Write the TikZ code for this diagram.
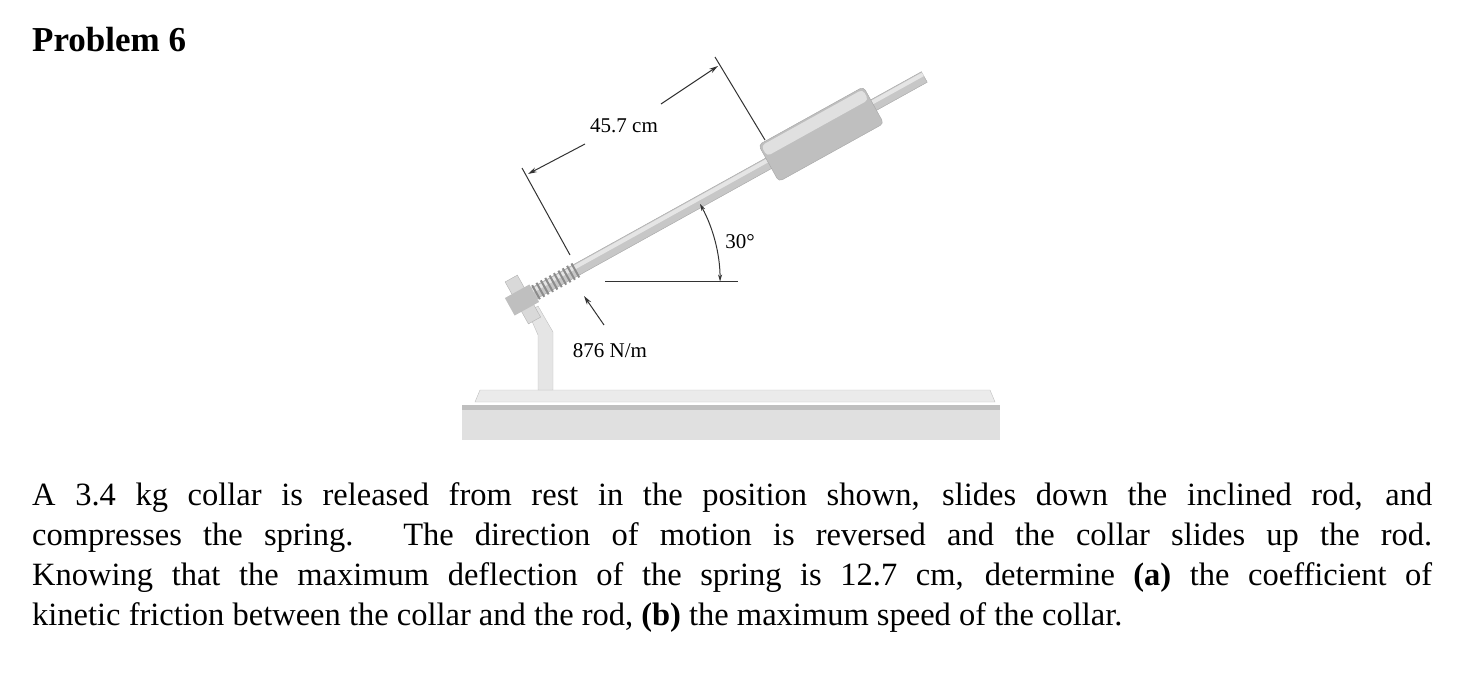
\documentclass[tikz,border=0pt]{standalone}
\usetikzlibrary{arrows.meta}
\usepackage{fontspec}
\setmainfont{Liberation Serif}
\begin{document}
\begin{tikzpicture}[x=1pt,y=-1pt,
  dim/.style={draw=black!80,line width=1pt},
  arr/.style={dim,-{Stealth[length=9pt,width=5pt]}},
  lab/.style={font=\fontsize{21}{24}\selectfont,inner sep=1pt}]
\useasboundingbox (0,0) rectangle (1458,676);
\node[anchor=west,font=\bfseries\fontsize{35}{40}\selectfont,inner sep=0pt] (title) at (32,40) {Problem 6};
% base
\fill[black!12] (462,405) rectangle (1000,440);
\fill[black!25] (462,405) rectangle (1000,410);
\fill[black!8,draw=black!25] (480,390) -- (990,390) -- (995,402) -- (475,402) -- cycle;
% post
\fill[black!10,draw=black!25] (538,390) -- (538,335) -- (528,312) -- (538,306) -- (553,332) -- (553,390) -- cycle;
% rod
\begin{scope}[shift={(522,300)},rotate=29]
  \fill[black!22,draw=black!35] (0,-6) rectangle (460,6);
  \fill[black!10] (0,-5) rectangle (460,-1);
  \foreach \i in {0,...,9} {\fill[black!45] (15+\i*5,-8) rectangle (17+\i*5,8);}
  \fill[black!15,draw=black!30] (-6,-24) rectangle (8,24);
  \fill[black!25] (-14,-10) rectangle (14,10);
  \fill[black!25,draw=black!35,rounded corners=4pt] (282,-21) rectangle (402,21);
  \fill[black!12,rounded corners=4pt] (284,-19) rectangle (400,-7);
\end{scope}
% dimension
\coordinate (e1a) at (570,255); \coordinate (e1b) at (522,168);
\coordinate (e2a) at (765,140); \coordinate (e2b) at (715,57);
\draw[dim] (e1a) -- (e1b); \draw[dim] (e2a) -- (e2b);
\node[lab] (d) at (624,126) {45.7 cm};
\draw[arr] (585,144) -- (528,174);
\draw[arr] (661,104) -- (718,66);
% angle
\coordinate (h1) at (605,281); \coordinate (h2) at (738,281);
\draw[dim] (h1) -- (h2);
\draw[dim,{Stealth[length=7pt,width=4pt]}-{Stealth[length=7pt,width=4pt]}] (700,204) arc[start angle=-29,end angle=0,radius=160];
\node[lab] (ang) at (740,242) {30°};
% spring label
\node[lab] (k) at (610,351) {876 N/m};
\draw[arr] (604,325) -- (584,296);
% text
\node[anchor=north west,text width=1400pt,align=justify,inner sep=0pt,font=\fontsize{32.5}{40}\selectfont] (txt) at (32,482)
{A 3.4 kg collar is released from rest in the position shown, slides down the inclined rod, and\linebreak compresses the spring. The direction of motion is reversed and the collar slides up the rod.\linebreak Knowing that the maximum deflection of the spring is 12.7 cm, determine \textbf{(a)} the coefficient of\linebreak kinetic friction between the collar and the rod, \textbf{(b)} the maximum speed of the collar.};
\end{tikzpicture}
\end{document}
